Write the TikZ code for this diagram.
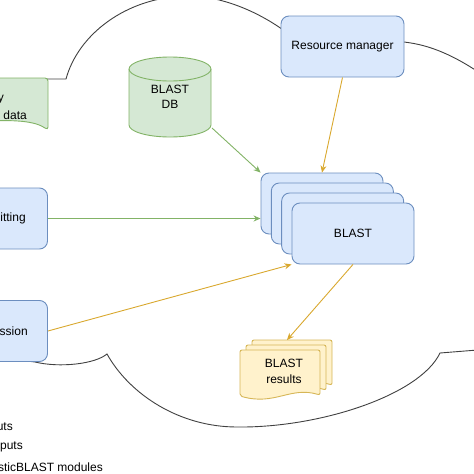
\documentclass[tikz,border=0pt]{standalone}
\usepackage{fontspec}
\setmainfont{Liberation Sans}
\usepackage{xcolor}
\usepackage{tikz}
\usetikzlibrary{shapes.geometric, arrows}
\usetikzlibrary{positioning, arrows.meta}
\usetikzlibrary{calc}

\definecolor{boxblue}{HTML}{DAE8FC}
\definecolor{lineblue}{HTML}{6C8EBF}
\definecolor{boxgreen}{HTML}{D5E8D4}
\definecolor{linegreen}{HTML}{82B366}
\definecolor{boxyellow}{HTML}{FFF2CC}
\definecolor{lineyellow}{HTML}{D6B656}
\definecolor{arrowyellow}{HTML}{D9A82E}
\definecolor{cloudgray}{HTML}{404040}

\begin{document}
\begin{tikzpicture}[
        x=1pt, y=-1pt,
        font=\fontsize{12}{15.5}\selectfont,
        process/.style={rectangle, rounded corners=8pt, minimum width=122pt, minimum height=61pt, text centered, draw=lineblue, fill=boxblue, line width=0.9pt},
        dbpaper/.style={draw=linegreen, fill=boxgreen, line width=0.9pt},
        datapaper/.style={draw=linegreen, fill=boxgreen, line width=0.9pt, rounded corners=3pt},
        resultpaper/.style={draw=lineyellow, fill=boxyellow, line width=0.9pt, rounded corners=2pt},
        cloudline/.style={draw=cloudgray, line width=0.9pt},
        cut/.style={inner sep=0pt},
        greenarrow/.style={linegreen, line width=0.9pt, -{Stealth[length=7pt, width=6pt]}},
        yellowarrow/.style={arrowyellow, line width=0.9pt, -{Stealth[length=7pt, width=6pt]}}
    ]
        \useasboundingbox (0,0) rectangle (474,474);
        \clip (0,0) rectangle (474,474);

        % ===== cloud =====
        \draw [cloudline] (-20,79) -- (66,79) .. controls (78,35) and (125,-2) .. (185,-4)
            .. controls (215,-5) and (255,8) .. (290,35) -- (404,42)
            .. controls (430,45) and (455,55) .. (490,80);
        \draw [cloudline] (490,349) -- (440,353) .. controls (420,395) and (320,428) .. (237,427)
            .. controls (180,427) and (130,395) .. (107,354)
            .. controls (95,364) and (60,368) .. (35,362) -- (-20,355);

        % ===== inputs =====
        \draw [datapaper] (-30,78) -- (48,78) -- (48,130) .. controls (35,121) and (15,119) .. (-30,122) -- cycle;
        \node (qdataA) [cut, anchor=east] at (4,100) {y};
        \node (qdataB) [cut, anchor=east] at (27,115) {data};

        % database drum
        \draw [dbpaper] (129,69) -- (129,125) arc[start angle=180, end angle=360, x radius=41pt, y radius=12pt]
            -- (211,69) arc[start angle=0, end angle=180, x radius=41pt, y radius=12pt] -- cycle;
        \draw [dbpaper, fill=none] (129,69) arc[start angle=180, end angle=360, x radius=41pt, y radius=12pt];
        \node (db) [align=center] at (170,97) {BLAST\\DB};

        \node (split) [process] at (-13.5,218.5) {};
        \node (splittxt) [cut, left=22pt of split.east] {itting};

        \node (sub) [process] at (-13.5,331) {};
        \node (subtxt) [cut, left=20pt of sub.east] {ssion};

        \node (resmgr) [process, minimum width=123pt] at (342.5,46.5) {Resource manager};

        % ===== BLAST stack =====
        \foreach \i in {0,1,2}
            \node (card\i) [process] at (322+10.33*\i, 203.5+10*\i) {};
        \node (blast) [process] at (353,233.5) {BLAST};

        % ===== results =====
        \foreach \dx/\dy in {12/-10, 6/-5, 0/0}
            \draw [resultpaper, shift={(240+\dx,350+\dy)}] (0,0) -- (80,0) -- (80,45)
                .. controls (50,36) and (35,56) .. (0,46) -- cycle;
        \node (results) [align=center] at (284,371.5) {BLAST\\results};
        \coordinate (resin) at (287,340);

        % ===== legend =====
        \node (legA) [cut, anchor=east] at (13,427) {uts};
        \node (legB) [cut, anchor=east] at (23,447) {puts};
        \node (legC) [cut, anchor=east] at (103,467) {sticBLAST modules};

        % ===== arrows =====
        \draw [greenarrow] ($(db)+(42,31)$) -- (card0.north west);
        \draw [greenarrow] (split) -- (split -| card0.west);
        \draw [yellowarrow] (resmgr.south) -- (card0.north);
        \draw [yellowarrow] (sub.east) -- (blast.south west);
        \draw [yellowarrow] (blast.south) -- (resin);

    \end{tikzpicture}
\end{document}
